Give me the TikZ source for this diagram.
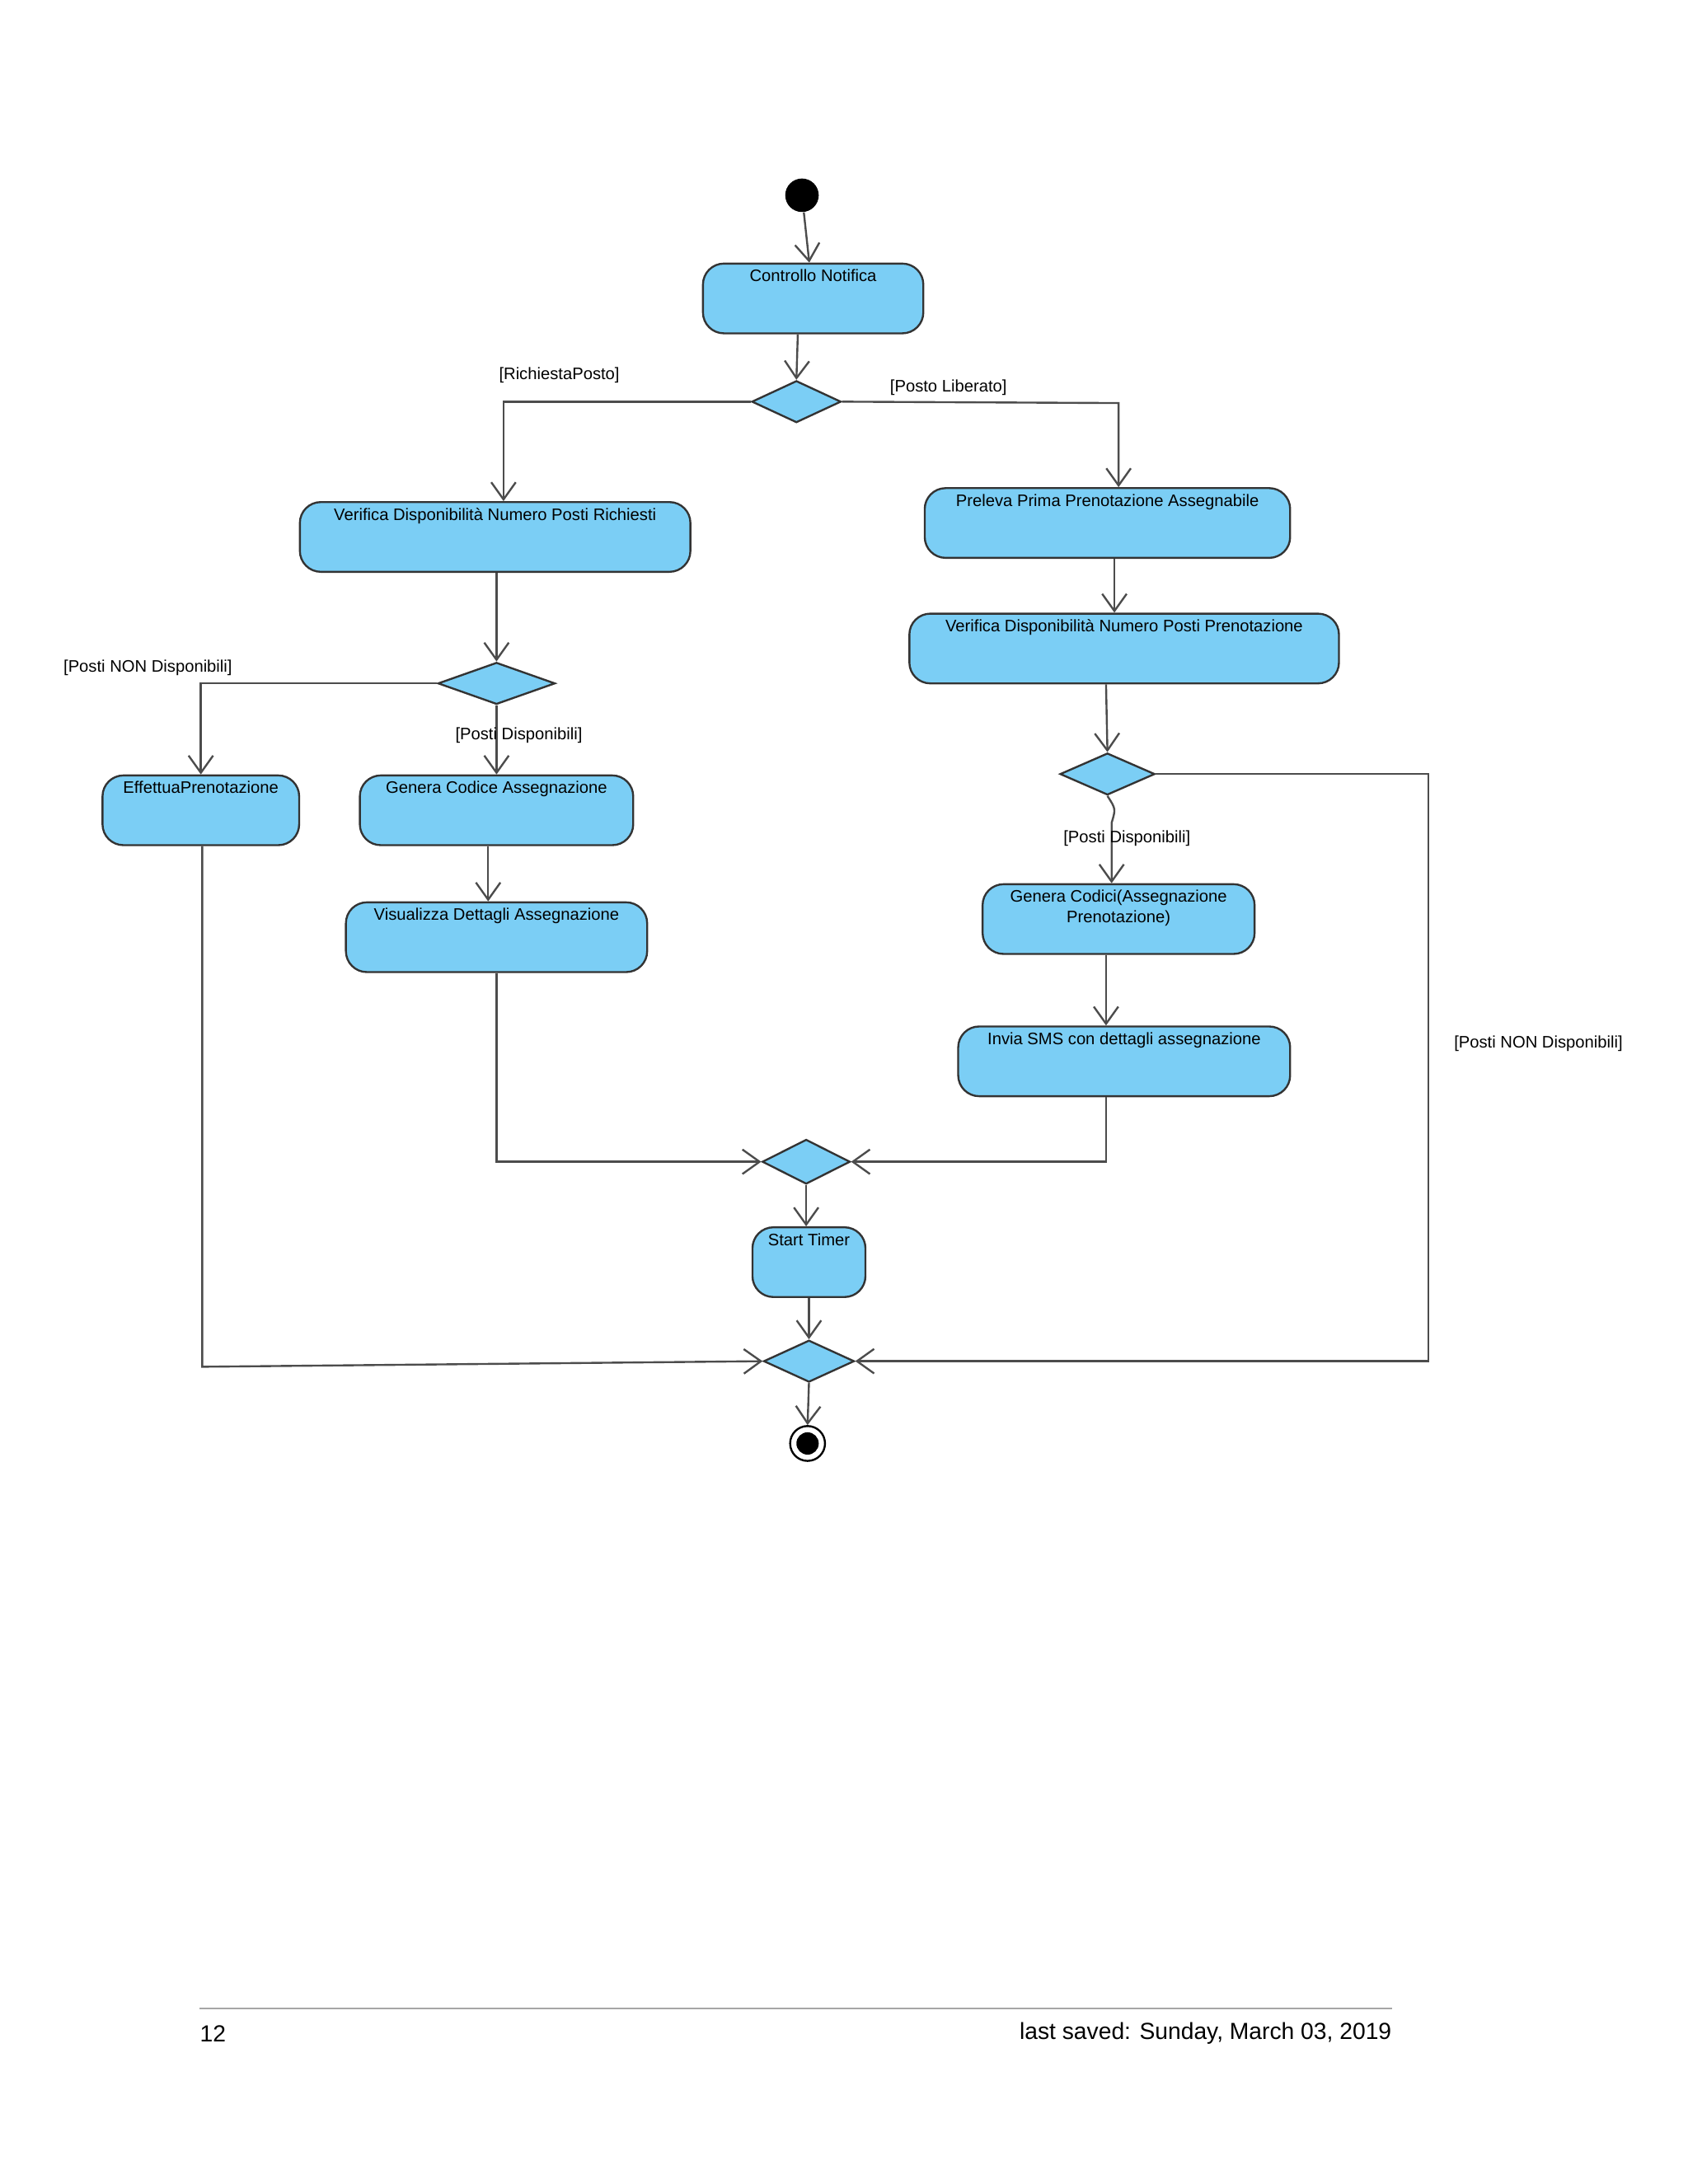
\documentclass[tikz,border=0pt]{standalone}
\usepackage{fontspec}
\setmainfont{Liberation Sans}
\usetikzlibrary{shapes.geometric,arrows.meta}
\definecolor{actfill}{HTML}{7BCEF5}
\begin{document}
\begin{tikzpicture}[x=0.02cm,y=-0.02cm,
  act/.style 2 args={draw=black!80,fill=actfill,rounded corners=0.3cm,line width=0.8pt,minimum width=#1*0.02cm,minimum height=#2*0.02cm,inner sep=0pt},
  dia/.style 2 args={draw=black!80,fill=actfill,diamond,line width=0.8pt,minimum width=#1*0.02cm,minimum height=#2*0.02cm,inner sep=0pt,aspect=2},
  lab/.style={font=\fontsize{6.8}{8.2}\selectfont,inner sep=1pt,align=center},
  ln/.style={draw=black!70,line width=0.8pt},
  arr/.style={ln,-{Straight Barb[length=7pt,width=10pt]}}]
\useasboundingbox[fill=white] (0,0) rectangle (1210,1566);
% nodes
\node[circle,fill=black,minimum size=24*0.02cm,inner sep=0] (st) at (575,140) {};
\node[act={158}{50}] (cn) at (583,214) {};
\node[lab,anchor=north] at ([yshift=-0.06cm]cn.north) {Controllo Notifica};
\node[dia={64}{30}] (d1) at (571,288) {};
\node[act={280}{50}] (vd) at (355,385) {};
\node[lab,anchor=north] at ([yshift=-0.06cm]vd.north) {Verifica Disponibilità Numero Posti Richiesti};
\node[act={262}{50}] (pp) at (794,375) {};
\node[lab,anchor=north] at ([yshift=-0.06cm]pp.north) {Preleva Prima Prenotazione Assegnabile};
\node[act={308}{50}] (vp) at (806,465) {};
\node[lab,anchor=north] at ([yshift=-0.06cm]vp.north) {Verifica Disponibilità Numero Posti Prenotazione};
\node[dia={68}{30}] (d3) at (794,555) {};
\node[act={195}{50}] (gc) at (802,659) {};
\node[lab,anchor=north] at ([yshift=-0.06cm]gc.north) {Genera Codici(Assegnazione\\Prenotazione)};
\node[act={238}{50}] (is) at (806,761) {};
\node[lab,anchor=north] at ([yshift=-0.06cm]is.north) {Invia SMS con dettagli assegnazione};
\node[dia={84}{30}] (d2) at (356,490) {};
\node[act={141}{50}] (ep) at (144,581) {};
\node[lab,anchor=north] at ([yshift=-0.06cm]ep.north) {EffettuaPrenotazione};
\node[act={196}{50}] (ga) at (356,581) {};
\node[lab,anchor=north] at ([yshift=-0.06cm]ga.north) {Genera Codice Assegnazione};
\node[act={216}{50}] (va) at (356,672) {};
\node[lab,anchor=north] at ([yshift=-0.06cm]va.north) {Visualizza Dettagli Assegnazione};
\node[dia={63}{32}] (m1) at (578,833) {};
\node[act={81}{50}] (tm) at (580,905) {};
\node[lab,anchor=north] at ([yshift=-0.06cm]tm.north) {Start Timer};
\node[dia={65}{30}] (m2) at (580,976) {};
\node[circle,draw=black,line width=0.8pt,fill=white,minimum size=25*0.02cm,inner sep=0] (en) at (579,1035) {};
\node[circle,fill=black,minimum size=16*0.02cm,inner sep=0] at (en) {};
% edges
\draw[arr] (st) -- (cn);
\draw[arr] (cn.south -| 572,0) -- (d1.north);
\draw[arr] (d1.west) -- (361,288) -- (vd.north -| 361,0);
\draw[arr] (d1.east) -- (802,289) -- (pp.north -| 802,0);
\draw[arr] (pp.south -| 799,0) -- (vp.north -| 799,0);
\draw[arr] (vp.south -| 793,0) -- (d3.north);
\draw[arr] (d3.south) .. controls (800,580) .. (797,590) -- (gc.north -| 797,0);
\draw[arr] (gc.south -| 793,0) -- (is.north -| 793,0);
\draw[arr] (is.south -| 793,0) -- (793,833) -- (m1.east);
\draw[arr] (d3.east) -- (1024,555) -- (1024,976) -- (m2.east);
\draw[arr] (vd.south -| 356,0) -- (d2.north);
\draw[arr] (d2.west) -- (144,490) -- (ep.north);
\draw[arr] (d2.south) -- (ga.north);
\draw[arr] (ga.south -| 350,0) -- (va.north -| 350,0);
\draw[arr] (va.south) -- (356,833) -- (m1.west);
\draw[arr] (m1.south) -- (tm.north -| 578,0);
\draw[arr] (tm.south) -- (m2.north);
\draw[arr] (ep.south -| 145,0) -- (145,980) -- (m2.west);
\draw[arr] (m2.south) -- (en.north);
% guards
\node[lab] at (401,269) {[RichiestaPosto]};
\node[lab] at (680,278) {[Posto Liberato]};
\node[lab] at (106,479) {[Posti NON Disponibili]};
\node[lab] at (372,527) {[Posti Disponibili]};
\node[lab] at (808,601) {[Posti Disponibili]};
\node[lab] at (1103,748) {[Posti NON Disponibili]};
% footer
\draw[black!35,line width=0.6pt] (143,1440) -- (998,1440);
\node[font=\fontsize{9.5}{11}\selectfont,anchor=west,inner sep=0] at (143,1458) {12};
\node[font=\fontsize{9.5}{11}\selectfont,anchor=east,inner sep=0] at (998,1458) {last saved: Sunday, March 03, 2019};
\end{tikzpicture}
\end{document}
